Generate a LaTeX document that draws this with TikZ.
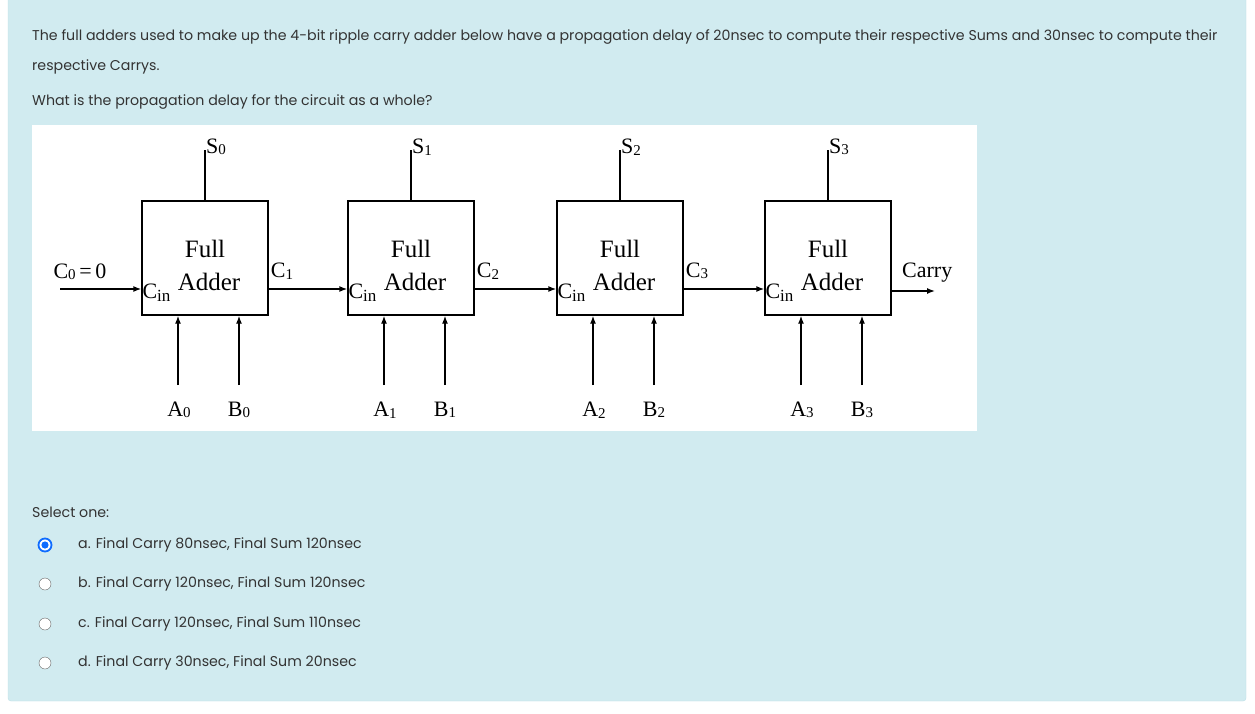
\documentclass[tikz,border=0pt]{standalone}
\usepackage{fontspec}
\usetikzlibrary{arrows.meta}
\setmainfont{Poppins}
\newfontfamily\tms{Liberation Serif}
\definecolor{panel}{RGB}{209,235,240}
\definecolor{paneledge}{RGB}{190,225,232}
\definecolor{radio}{RGB}{15,108,255}
\newcommand{\subx}[1]{\raisebox{-1.5pt}{\fontsize{15}{15}\selectfont #1}}
\begin{document}
\begin{tikzpicture}[x=1pt,y=-1pt,
  q/.style={anchor=west,inner sep=0,font=\fontsize{14.2}{16}\selectfont,text=black!80},
  fa/.style={draw,line width=1.4pt,minimum width=126,minimum height=114,inner sep=0},
  lb/.style={inner sep=0,font=\tms\fontsize{22}{23}\selectfont},
  big/.style={inner sep=0,font=\tms\fontsize{25}{26}\selectfont},
  ar/.style={line width=1.4pt,-{Latex[length=8pt,width=6pt]}},
  ln/.style={line width=1.4pt},
  rb/.style={circle,draw=black!60,fill=white,minimum size=12,inner sep=0}]
\useasboundingbox (0,0) rectangle (1255,714);
\fill[white] (0,0) rectangle (1255,714);
\fill[rounded corners=3,fill=panel,draw=paneledge] (8,-5) rectangle (1246,701);
\node[q] (t1) at (32,37) {The full adders used to make up the 4-bit ripple carry adder below have a propagation delay of 20nsec to compute their respective Sums and 30nsec to compute their};
\node[q] (t2) at (32,67) {respective Carrys.};
\node[q] (t3) at (32,102) {What is the propagation delay for the circuit as a whole?};
\fill[white] (32,125) rectangle (977,431);
\foreach \i/\x in {0/205,1/411,2/620,3/828}{
  \node[fa] (b\i) at (\x,258) {};
  \node[big] (f\i) at (\x,249) {Full};
  \node[big] (d\i) at (\x+4,282) {Adder};
  \node[lb,anchor=west] (c\i) at ([xshift=1]b\i.west|-0,293) {C\raisebox{-3pt}{\fontsize{17}{17}\selectfont in}};
  \coordinate (st\i) at (\x,150);
  \draw[ln] (b\i.north) -- (st\i);
  \node[lb,anchor=west] (s\i) at (\x+1,147) {S\subx{\i}};
  \node[lb] (a\i) at (\x-26,410) {A\subx{\i}};
  \node[lb] (bb\i) at (\x+34,410) {B\subx{\i}};
  \coordinate (as\i) at (\x-27,385);
  \coordinate (bs\i) at (\x+34,385);
  \draw[ar] (as\i) -- (as\i|-b\i.south);
  \draw[ar] (bs\i) -- (bs\i|-b\i.south);
}
\coordinate (cs) at (60,289);
\draw[ar] (cs) -- (cs-|b0.west);
\node[lb] (c0) at (80,272) {C\subx{0}\,=\,0};
\foreach \i/\j in {0/1,1/2,2/3}{
  \draw[ar] (b\i.east|-0,289) -- (b\j.west|-0,289);
  \node[lb,anchor=west] (k\j) at ([xshift=2]b\i.east|-0,271) {C\subx{\j}};
}
\coordinate (ce) at (935,291);
\draw[ar] (b3.east|-ce) -- (ce);
\node[lb,anchor=west] (cy) at (902,273) {Carry};
\node[q] (sel) at (32,512) {Select one:};
\node[rb,draw=radio,line width=1.8pt,minimum size=13] (r1) at (45,545) {};
\fill[radio] (r1) circle (3.6);
\node[rb] (r2) at (45,584) {};
\node[rb] (r3) at (45,624) {};
\node[rb] (r4) at (45,663) {};
\node[q] (o1) at (78,545) {a. Final Carry 80nsec, Final Sum 120nsec};
\node[q] (o2) at (78,584) {b. Final Carry 120nsec, Final Sum 120nsec};
\node[q] (o3) at (78,624) {c. Final Carry 120nsec, Final Sum 110nsec};
\node[q] (o4) at (78,663) {d. Final Carry 30nsec, Final Sum 20nsec};
\end{tikzpicture}
\end{document}
